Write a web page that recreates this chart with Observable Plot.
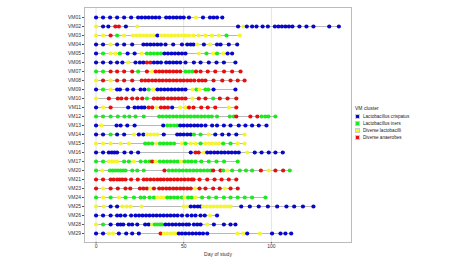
<!DOCTYPE html>
<html><head><meta charset="utf-8">
<script src="https://cdn.jsdelivr.net/npm/d3@7"></script>
<script src="https://cdn.jsdelivr.net/npm/@observablehq/plot@0.6"></script>
<style>
body{margin:0;background:#fff;font-family:"Liberation Sans",Arial,sans-serif;}
#wrap{position:relative;width:474px;height:257px;}
#legend{position:absolute;left:355px;top:105px;font-size:4.6px;color:#222;line-height:7px;}
#legend .t{font-size:5px;margin-bottom:1px;}
#legend .i{display:flex;align-items:center;height:7px;}
#legend .k{width:5px;height:5px;border:0.5px solid #ccc;box-sizing:border-box;display:flex;align-items:center;justify-content:center;margin-right:3px;background:#fff;}
#legend .k span{width:3px;height:3px;display:block;}
</style></head>
<body><div id="wrap"><div id="chart"></div><div id="legend"></div></div>
<script>
const rowIds = ["VM01","VM02","VM03","VM04","VM05","VM06","VM07","VM08","VM09","VM10","VM11","VM12","VM13","VM14","VM15","VM16","VM17","VM20","VM21","VM23","VM24","VM25","VM26","VM28","VM29"];
const clusterCodes = ["C","I","L","A"];
const clusterNames = ["Lactobacillus crispatus","Lactobacillus iners","Diverse lactobacilli","Diverse anaerobes"];
const clusterColors = ["#0808cc","#1ee81e","#f4f430","#e61010"];
const xTicks = [0,50,100];

const VM01 = [["C",[0,4,8,12,16,20,24,26,28,30,32,34,36,40,42,44,46,48,50,53]],["L",[57]],["C",[61,65,67,69,72]]];
const VM02 = [["L",[0]],["C",[4,7]],["A",[11,13]],["C",[17]],["L",[23.5]],["C",[81]],["L",[84]],["C",[86,89,91.5,95,98,102,104,106,108,110,112,116,120,124,133,138.5]]];
const VM03 = [["L",[0,4]],["A",[8.3]],["I",[12]],["L",[16,21,23,25,27,29,31,33]],["C",[35]],["L",[37,39,41,43,45,47,49,51,53,55.5,58.5,62.4,66,70]],["I",[74.4]],["L",[82]]];
const VM04 = [["C",[0,4]],["L",[8.3]],["C",[12,16,20.6,27,29,31,33,35,37,39.6,44,49,52,54,55.6]],["L",[57.7]],["C",[61.5]],["L",[65]],["C",[69,71,75.7,80.5]]];
const VM05 = [["C",[0]],["I",[4]],["L",[8.3,11]],["I",[13.6]],["C",[18,22]],["L",[26]],["I",[29,31,33,35,37]],["C",[39,41,43,45,47,49,51]],["L",[58.5]],["I",[63]],["L",[66.8]],["I",[69]],["L",[72.5]],["C",[75,77.6]]];
const VM06 = [["C",[0,4,8.3,12,15]],["L",[18.3]],["C",[22.5,25,27]],["A",[29,31]],["C",[33,35,37,40,42,44,46,48,51,55.8,59.6,64.3,68.7,72.9,79.5]]];
const VM07 = [["I",[0,4]],["A",[8.3,12,16,20.6]],["I",[24]],["A",[29]],["L",[32]],["A",[34,36,38,40,42,44,46,48]],["I",[51,53,55]],["A",[57,59.6,63.7,68,73,77.6,82.4]]];
const VM08 = [["L",[0]],["A",[4]],["L",[8.3]],["A",[12,16,20.6,26,28,30,32,34,36,38,40,42,44,46,48,50,52,54,56,58.6,60.5,62.4,67,72,76.7,80.8,84.7]]];
const VM09 = [["C",[0]],["I",[4]],["L",[8.3]],["C",[12,13.6,17.8,21.2,25.4,27.6]],["I",[30]],["L",[32.6]],["C",[35,37,39,41,43,45,47,49,51]],["L",[55]],["I",[57.3]],["L",[59]],["I",[62.4,64]],["C",[67,79.5]]];
const VM10 = [["L",[0]],["A",[7.3,12.4,14.4,17.2,20.6,23.5,26.3]],["I",[29]],["A",[33,35,37,38.6,41,43,45,47,49,51]],["L",[55]],["A",[58.6,62.4]],["I",[66.8]],["A",[70.6,75,80]]];
const VM11 = [["C",[0]],["L",[4]],["A",[8.3]],["C",[18.3,22,24,26,27.6]],["A",[30,32]],["L",[34.5]],["A",[37,39,41]],["C",[43.4]],["L",[48,51]],["A",[53,55.6,60,63.7,68]],["L",[75.7]],["A",[80]]];
const VM12 = [["I",[0,4,8.3,12.4,16.2,19,22.5,27.2,36,38,40,42,44,46,48,50,52,54,56,58,60,62,64,66,69,76.3,78.6]],["A",[80,88,92]],["I",[94.4,96.5,98.3,102.3]]];
const VM13 = [["C",[0]],["L",[3]],["C",[11.7,14,17.8,22,38.3]],["I",[40.6,42.5,44.5,46.3]],["C",[48,50,52,54,56,58,60,62.4,66.2,69,72.9,76.7,81.4,85.2,89,92.8,97.2]]];
const VM14 = [["C",[0,4]],["I",[8.3]],["C",[12,16]],["L",[21.6]],["C",[24.4,27]],["L",[29,31,33,35]],["C",[38.6,46.3,48,50,52,54]],["I",[55.8,59.6]],["L",[64.3]],["C",[68,72,75.7,80]],["L",[84.7]]];
const VM15 = [["L",[0,4,8.3,14,18.7]],["I",[28,30,32]],["L",[34.5]],["I",[36.5,38.5,40.5,42.5,44.5]],["L",[49]],["I",[51]],["L",[54,56.7]],["I",[59.6]],["L",[62.4,64.5,66.5,68.5,70]],["I",[72.5,76.7]],["L",[80.8,84.7]]];
const VM16 = [["C",[0,4,7.3,9,10.5,12,16.2,20,24,54]],["A",[56.7,58.5]],["L",[61.5]],["C",[63.4,65.4,67.4,69.4,71.4,73.4,75.4,77.4,79.4,81.4]],["L",[86.2]],["C",[90.5,94.4,98.5,102.3,106.5]]];
const VM17 = [["I",[0,4]],["L",[7.3,9,10.5,12]],["I",[16,18.7]],["L",[21.6]],["I",[25.4,28.2,30.5]],["A",[32]],["L",[34]],["I",[36.4,38.5,40.5,42.5,44.5,46.5]],["L",[48.5]],["I",[50.5,52.5,54.5,56.7,60,64.3,68.7,73,80.8]]];
const VM20 = [["I",[0]],["L",[3.5]],["I",[7.9,9.5,11,12.5,14,15.5,16.8,20.6,23.5,27.2]],["A",[39]],["I",[41.5,43.5,45.5,47.5,49.5,51.5,53.5,55.5,57.5,59.5,61.5,63.5,65.5]],["A",[66.8,71]],["I",[72.5]],["L",[74.8]],["I",[77.6,82,85.5,89]],["A",[94]],["L",[98.5]],["A",[102.3,106.7]],["I",[110.5]]];
const VM21 = [["A",[0,4,8.3,10,12,13.5,15,16.8,20,23.8,27.2,29,31,33,35,36.8,38.6,40.6,42.5,44.5,46.5,48.5,50.5,52.5,54.5,55.6,59,63.4,67.6,71.6,75.7,80]]];
const VM23 = [["A",[0]],["L",[4]],["A",[8.3,12.4,16.8,19.5,25,27,29]],["L",[31]],["A",[33,36,38,40,42,44,46,48,50,52,54]],["L",[56.5]],["A",[59,62.4,66.8,70.5]],["L",[73.5]],["A",[76.7,80.8]]];
const VM24 = [["I",[0]],["L",[4]],["I",[8.3]],["L",[13]],["I",[16.8,21.6,25.4,27.5,30.5,33]],["L",[35,37,38.5]],["I",[40.6,42.5,44.5,46.5,49]],["L",[50.5]],["I",[52.5,54.5]],["L",[56.7]],["I",[60.5,64.3,68.5,72.9,76.7,80.8,84.8,89,96.6]]];
const VM25 = [["L",[0,4.4]],["C",[8.3,12]],["L",[15,17.5,19.7,26,50,52]],["C",[54,56,58,59.6]],["L",[61,63,65,67,69,71,73,75,76.7]],["C",[82.8,87.7,92.8,98,103.3,108.6,113,118,124]]];
const VM26 = [["C",[0,4,8.3,12,14,16.5,20,22.5,24.5,26.5,28.5,30.5,32.5,34.5,36.5,38.5,40.5,42.5,44.5,46.5,49,52,54.5,56.7,59.6,62]],["L",[65]],["C",[69]]];
const VM28 = [["L",[0]],["I",[4]],["C",[8.3,12.4,14,15.5,18.7,20.6,23.5,28,30]],["L",[32]],["I",[33.5,35,36.5,37.7]],["C",[39.6,41.5,43.5,45.5,47.5,49.5,51.5,53,55.8,57.7,59.6]],["L",[63.4]],["C",[67.2,72.9,76.7,79.5]]];
const VM29 = [["C",[0,4]],["L",[7.3,9.6]],["C",[13,17.2,20.6,24.4]],["A",[36.8]],["L",[38.7,40.5,42.5,44,45.3]],["C",[47.2,49,51,53,55,57,59,61,63.4]],["L",[80.5,83.9]],["C",[86.2]],["L",[93.4]],["C",[100.4,105.2,108,111.3]]];

const rowData = [VM01,VM02,VM03,VM04,VM05,VM06,VM07,VM08,VM09,VM10,VM11,VM12,VM13,VM14,VM15,VM16,VM17,VM20,VM21,VM23,VM24,VM25,VM26,VM28,VM29];

const points = [];
rowIds.forEach((id, i) => {
  rowData[i].forEach(([code, days]) => {
    days.forEach(d => points.push({id, day: d, cluster: clusterNames[clusterCodes.indexOf(code)]}));
  });
});
points.sort((a, b) => a.day - b.day);
const spans = rowIds.map(id => {
  const ext = d3.extent(points.filter(p => p.id === id), p => p.day);
  return {id, start: ext[0], end: ext[1]};
});

const chart = Plot.plot({
  width: 474, height: 257,
  marginLeft: 84, marginRight: 123, marginTop: 7, marginBottom: 15,
  style: {fontFamily: "'Liberation Sans', Arial, sans-serif", fontSize: "5px", background: "#fff", color: "#333"},
  x: {domain: [-6.6, 145.7]},
  y: {type: "point", domain: rowIds, padding: 0.57},
  color: {domain: clusterNames, range: clusterColors},
  marks: [
    Plot.gridX(xTicks, {stroke: "#e4e4e4", strokeOpacity: 1}),
    Plot.frame({stroke: "#bbb"}),
    Plot.ruleY(spans, {y: "id", x1: "start", x2: "end", stroke: "#b8b8b8", strokeWidth: 1}),
    Plot.dot(points, {x: "day", y: "id", fill: "cluster", r: 2.1, stroke: "none"}),
    Plot.axisX({ticks: xTicks, tickSize: 1.5, tickPadding: 0.5, fontSize: 5, stroke: "#555", label: "Day of study", labelAnchor: "center", labelArrow: "none", labelOffset: 13}),
    Plot.axisY({tickSize: 2, tickPadding: 1.5, fontSize: 5, stroke: "#555", label: null})
  ]
});
document.getElementById("chart").appendChild(chart);

const lg = document.getElementById("legend");
lg.innerHTML = '<div class="t">VM cluster</div>' + clusterNames.map((n, i) =>
  `<div class="i"><div class="k"><span style="background:${clusterColors[i]}"></span></div>${n}</div>`).join("");
</script>
</body></html>
